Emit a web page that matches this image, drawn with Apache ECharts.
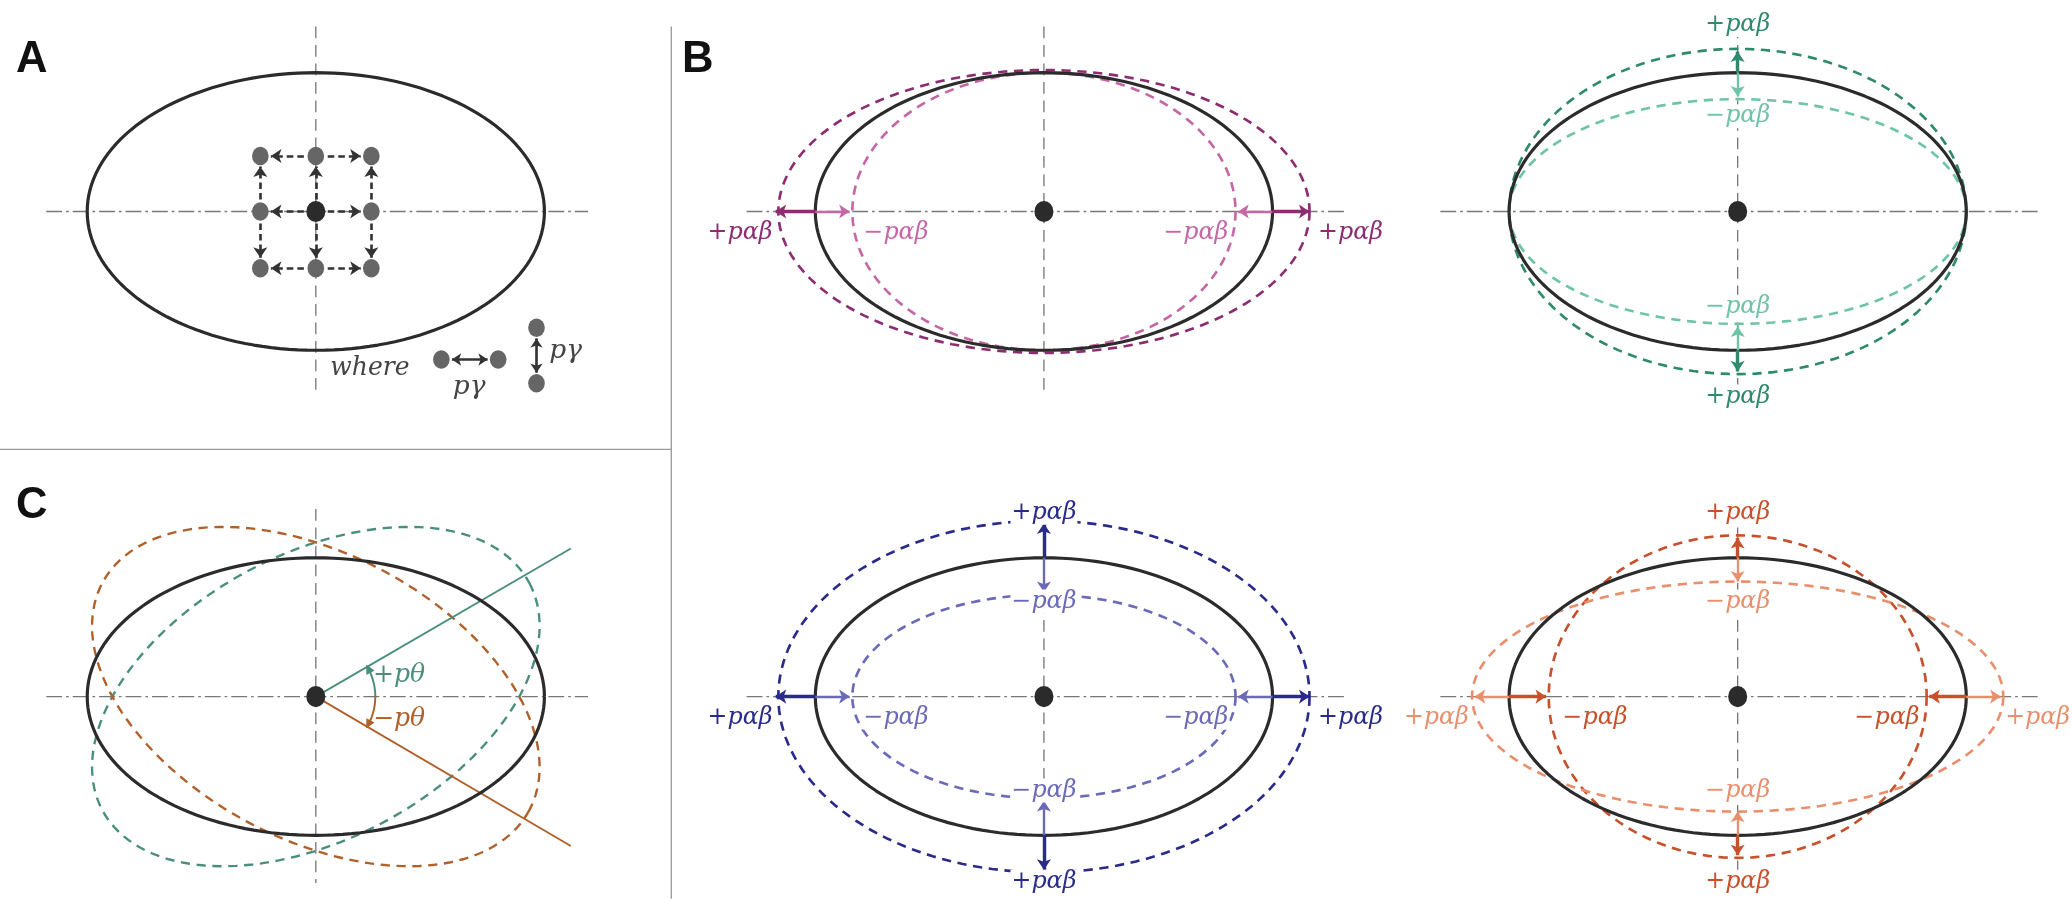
<!DOCTYPE html>
<html><head><meta charset="utf-8">
<script src="https://cdn.jsdelivr.net/npm/echarts@6/dist/echarts.min.js"></script>
<style>html,body{margin:0;padding:0;background:#fff}#c{width:2072px;height:916px}</style>
</head><body><div id="c"></div>
<script>
// Design space: 1568 x 693 units, mapped to 2072 x 916 pixels by the axes
const S = 2072 / 1568;
const W = 1568, H = 693;

// Ellipses: [cx, cy, a, b, rotationDeg, color, dashed, width]
const ellipses = [
  [239,160,173,105,0,'#2b2b2b',false,2.4],
  [239,527,173,105,0,'#2b2b2b',false,2.4],
  [239,527,183,108,28,'#4a8f7e',true,1.8],
  [239,527,183,108,-28,'#b0602a',true,1.8],
  [790,160,201,107,0,'#8e2c72',true,2],
  [790,160,145,105,0,'#c567a5',true,2],
  [790,160,173,105,0,'#2b2b2b',false,2.4],
  [1315,160,173,123,0,'#2f8a6b',true,2],
  [1315,160,173,85,0,'#6fc4a6',true,2],
  [1315,160,173,105,0,'#2b2b2b',false,2.4],
  [790,527,201,133,0,'#2a2a8a',true,2],
  [790,527,145,77,0,'#6a6ab8',true,2],
  [790,527,173,105,0,'#2b2b2b',false,2.4],
  [1315,527,143,122,0,'#c8502a',true,2],
  [1315,527,201,87,0,'#e8906e',true,2],
  [1315,527,173,105,0,'#2b2b2b',false,2.4]
];

// Reference axes lines: [x1,y1,x2,y2,style]  style: 'h' dash-dot, 'v' dashed
const refLines = [
  [35,160,445,160,'h'],[239,20,239,300,'v'],
  [35,527,445,527,'h'],[239,385,239,668,'v'],
  [565,160,1020,160,'h'],[790,20,790,300,'v'],
  [1090,160,1545,160,'h'],[1315,20,1315,300,'v'],
  [565,527,1020,527,'h'],[790,385,790,675,'v'],
  [1090,527,1545,527,'h'],[1315,385,1315,675,'v']
];
// Panel dividers
const dividers = [[508,20,508,680],[0,340,508,340]];
// Panel C rays: [x1,y1,x2,y2,color]
const rays = [[239,527,432,415,'#4a8f7e'],[239,527,432,640,'#b0602a']];

// Dots: [x,y,color,radius]
const dots = [
  [197,118,'#666666',7],[239,118,'#666666',7],[281,118,'#666666',7],
  [197,160,'#666666',7],[239,160,'#2b2b2b',8],[281,160,'#666666',7],
  [197,203,'#666666',7],[239,203,'#666666',7],[281,203,'#666666',7],
  [334,272,'#666666',7],[377,272,'#666666',7],[406,248,'#666666',7],[406,290,'#666666',7],
  [239,527,'#2b2b2b',8],[790,160,'#2b2b2b',8],[1315,160,'#2b2b2b',8],
  [790,527,'#2b2b2b',8],[1315,527,'#2b2b2b',8]
];

// Panel A grid arrows (dashed): [x1,y1,x2,y2]
const gridArrows = [
  [239,160,197,160],[239,160,281,160],[239,160,239,118],[239,160,239,203],
  [239,118,197,118],[239,118,281,118],[239,203,197,203],[239,203,281,203],
  [197,160,197,118],[197,160,197,203],[281,160,281,118],[281,160,281,203]
];
// Legend double arrows: [x1,y1,x2,y2]
const legendArrows = [[334,272,377,272],[406,248,406,290]];

// Panel B arrows: [x1,y1,x2,y2,color,width]
const bArrows = [
  [617,160,587,160,'#8e2c72',2.6],[617,160,643,160,'#c567a5',1.8],
  [963,160,937,160,'#c567a5',1.8],[963,160,991,160,'#8e2c72',2.6],
  [1315,55,1315,39,'#2f8a6b',2.6],[1315,55,1315,73,'#6fc4a6',1.8],
  [1315,265,1315,247,'#6fc4a6',1.8],[1315,265,1315,281,'#2f8a6b',2.6],
  [617,527,587,527,'#2a2a8a',2.6],[617,527,643,527,'#6a6ab8',1.8],
  [963,527,937,527,'#6a6ab8',1.8],[963,527,991,527,'#2a2a8a',2.6],
  [790,422,790,396,'#2a2a8a',2.6],[790,422,790,448,'#6a6ab8',1.8],
  [790,632,790,606,'#6a6ab8',1.8],[790,632,790,658,'#2a2a8a',2.6],
  [1142,527,1116,527,'#e8906e',1.8],[1142,527,1170,527,'#c8502a',2.6],
  [1488,527,1460,527,'#c8502a',2.6],[1488,527,1514,527,'#e8906e',1.8],
  [1315,422,1315,407,'#c8502a',2.6],[1315,422,1315,440,'#e8906e',1.8],
  [1315,632,1315,614,'#e8906e',1.8],[1315,632,1315,647,'#c8502a',2.6]
];

// Texts: [x,y,text,color,size,style]
const texts = [
  [24,45,'A','#111',33,'bold'],[528,45,'B','#111',33,'bold'],[24,383,'C','#111',33,'bold'],
  [280,279,'where','#444',19,'i'],[355,293,'pγ','#444',20,'i'],[428,266,'pγ','#444',20,'i'],
  [560,176,'+pαβ','#8e2c72',18,'i'],[678,176,'−pαβ','#c567a5',18,'i'],
  [905,176,'−pαβ','#c567a5',18,'i'],[1022,176,'+pαβ','#8e2c72',18,'i'],
  [1315,19,'+pαβ','#2f8a6b',18,'i'],[1315,88,'−pαβ','#6fc4a6',18,'i'],
  [1315,232,'−pαβ','#6fc4a6',18,'i'],[1315,300,'+pαβ','#2f8a6b',18,'i'],
  [790,388,'+pαβ','#2a2a8a',18,'i'],[790,455,'−pαβ','#6a6ab8',18,'i'],
  [790,598,'−pαβ','#6a6ab8',18,'i'],[790,667,'+pαβ','#2a2a8a',18,'i'],
  [560,543,'+pαβ','#2a2a8a',18,'i'],[678,543,'−pαβ','#6a6ab8',18,'i'],
  [905,543,'−pαβ','#6a6ab8',18,'i'],[1022,543,'+pαβ','#2a2a8a',18,'i'],
  [1315,388,'+pαβ','#c8502a',18,'i'],[1315,455,'−pαβ','#e8906e',18,'i'],
  [1315,598,'−pαβ','#e8906e',18,'i'],[1315,667,'+pαβ','#c8502a',18,'i'],
  [1087,543,'+pαβ','#e8906e',18,'i'],[1207,543,'−pαβ','#c8502a',18,'i'],
  [1428,543,'−pαβ','#c8502a',18,'i'],[1542,543,'+pαβ','#e8906e',18,'i'],
  [302,511,'+pθ','#4a8f7e',19,'i'],[302,544,'−pθ','#b0602a',19,'i']
];
// Angle arcs in panel C: [cx,cy,r,startDeg,endDeg,color]
const arcs = [[239,527,45,0,28,'#4a8f7e'],[239,527,45,0,-28,'#b0602a']];

function ellipsePts(cx,cy,a,b,rot){
  const r = rot*Math.PI/180, pts=[];
  for(let i=0;i<=160;i++){
    const t=i/160*2*Math.PI, x=a*Math.cos(t), y=b*Math.sin(t);
    pts.push([cx+x*Math.cos(r)+y*Math.sin(r), cy-x*Math.sin(r)+y*Math.cos(r)]);
  }
  return pts;
}
function arcPts(cx,cy,r,s,e){
  const pts=[];
  for(let i=0;i<=20;i++){const t=(s+(e-s)*i/20)*Math.PI/180; pts.push([cx+r*Math.cos(t), cy-r*Math.sin(t)]);}
  return pts;
}
function shorten(x1,y1,x2,y2,d1,d2){
  const L=Math.hypot(x2-x1,y2-y1), ux=(x2-x1)/L, uy=(y2-y1)/L;
  return [[x1+ux*d1,y1+uy*d1],[x2-ux*d2,y2-uy*d2]];
}

const series=[];
ellipses.forEach(e=>series.push({type:'line',data:ellipsePts(e[0],e[1],e[2],e[3],e[4]),showSymbol:false,smooth:false,silent:true,
  lineStyle:{color:e[5],width:e[7]*S,type:e[6]?[7*S,5*S]:'solid'},z:e[6]?2:3}));
refLines.forEach(l=>series.push({type:'line',data:[[l[0],l[1]],[l[2],l[3]]],showSymbol:false,silent:true,
  lineStyle:{color:'#777',width:1*S,type:l[4]==='h'?[12*S,3*S,2*S,3*S]:[9*S,5*S]},z:1}));
dividers.forEach(l=>series.push({type:'line',data:[[l[0],l[1]],[l[2],l[3]]],showSymbol:false,silent:true,
  lineStyle:{color:'#999',width:1*S},z:1}));
rays.forEach(l=>series.push({type:'line',data:[[l[0],l[1]],[l[2],l[3]]],showSymbol:false,silent:true,
  lineStyle:{color:l[4],width:1.4*S},z:2}));
arcs.forEach(a=>{
  series.push({type:'line',data:arcPts(a[0],a[1],a[2],a[3],a[4]),showSymbol:false,silent:true,lineStyle:{color:a[5],width:1.5*S},z:4});
  const t=a[4]*Math.PI/180;
  series.push({type:'scatter',silent:true,data:[[a[0]+a[2]*Math.cos(t),a[1]-a[2]*Math.sin(t)]],symbol:'triangle',symbolSize:7*S,
    symbolRotate:a[4]>0?a[4]:180+a[4],itemStyle:{color:a[5],opacity:1},z:5});
});
series.push({type:'lines',coordinateSystem:'cartesian2d',silent:true,z:4,
  symbol:['none','arrow'],symbolSize:8*S,
  lineStyle:{color:'#333',width:2*S,type:[5*S,3*S],opacity:1},
  data:gridArrows.map(a=>({coords:shorten(a[0],a[1],a[2],a[3],9,8)}))});
series.push({type:'lines',coordinateSystem:'cartesian2d',silent:true,z:4,
  symbol:['arrow','arrow'],symbolSize:7*S,
  lineStyle:{color:'#333',width:2*S,opacity:1},
  data:legendArrows.map(a=>({coords:shorten(a[0],a[1],a[2],a[3],8,8)}))});
series.push({type:'lines',coordinateSystem:'cartesian2d',silent:true,z:6,
  symbol:['none','arrow'],symbolSize:8*S,
  data:bArrows.map(a=>({coords:[[a[0],a[1]],[a[2],a[3]]],lineStyle:{color:a[4],width:a[5]*S,opacity:1}}))});
series.push({type:'scatter',silent:true,z:7,
  data:dots.map(d=>({value:[d[0],d[1]],symbolSize:[d[3]*2*S*0.9,d[3]*2*S],itemStyle:{color:d[2],opacity:1}}))});
series.push({type:'scatter',silent:true,z:8,symbolSize:1,itemStyle:{opacity:0},
  data:texts.map(t=>({value:[t[0],t[1]],label:{show:true,position:'inside',formatter:t[2],color:t[3],opacity:1,
    fontSize:t[4]*S,fontStyle:t[5]==='i'?'italic':'normal',fontWeight:t[5]==='bold'?'bold':'normal',
    fontFamily:t[5]==='bold'?'Liberation Sans':'DejaVu Serif',
    backgroundColor:t[2].indexOf('pαβ')>=0?'#fff':'transparent',padding:[0,1]}}))});

const chart=echarts.init(document.getElementById('c'),null,{renderer:'canvas'});
chart.setOption({animation:false,backgroundColor:'#fff',
  grid:{left:0,right:0,top:0,bottom:0},
  xAxis:{type:'value',min:0,max:W,show:false},
  yAxis:{type:'value',min:0,max:H,inverse:true,show:false},
  series});
</script></body></html>
